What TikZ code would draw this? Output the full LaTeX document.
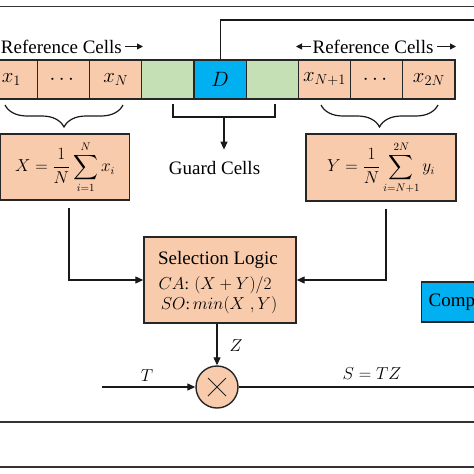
\documentclass[tikz,border=0pt]{standalone}
\usepackage{fontspec}
\setmainfont{Liberation Serif}
\usepackage{amsmath}
\usetikzlibrary{arrows.meta,decorations.pathreplacing,calc}
\definecolor{cellor}{HTML}{F8CBAD}
\definecolor{cellgr}{HTML}{C5E0B4}
\definecolor{cellbl}{HTML}{00B0F0}
\begin{document}
\begin{tikzpicture}[x=1pt,y=-1pt,
  txt/.style={font=\fontsize{19}{22}\selectfont, inner sep=0pt},
  mtxt/.style={font=\fontsize{16}{20}\selectfont, inner sep=0pt},
  cell/.style={draw=black!85, line width=1.2pt, minimum width=52.2pt, minimum height=39pt, inner sep=0pt, font=\fontsize{20}{22}\selectfont},
  box/.style={draw=black!85, line width=1.4pt, fill=cellor, inner sep=0pt, font=\fontsize{16}{20}\selectfont},
  line/.style={draw=black!90, line width=1.2pt},
  arr/.style={line, -{Triangle[length=8pt,width=7pt]}},
  frame/.style={draw=black!80, line width=1.7pt}
]
\useasboundingbox (0,0) rectangle (474,474);
% frame lines
\draw[frame] (-5,6.5) -- (480,6.5);
\draw[frame] (-5,422) -- (480,422);
\draw[frame] (-5,467) -- (480,467);
% cells
\node[cell, fill=cellor] (c1) at (11.3,79.5) {$x_1$};
\node[cell, fill=cellor] (c2) at (63.5,79.5) {$\cdots$};
\node[cell, fill=cellor] (c3) at (115.7,79.5) {$x_N$};
\node[cell, fill=cellgr] (g1) at (167.9,79.5) {};
\node[cell, fill=cellbl] (D) at (220.1,79.5) {$D$};
\node[cell, fill=cellgr] (g2) at (272.3,79.5) {};
\node[cell, fill=cellor] (c4) at (324.5,79.5) {$x_{N+1}$};
\node[cell, fill=cellor] (c5) at (376.7,79.5) {$\cdots$};
\node[cell, fill=cellor] (c6) at (428.9,79.5) {$x_{2N}$};
% D line out
\coordinate (dend) at (480,20);
\draw[line] (D.north) |- (dend);
% reference cells labels
\node[txt, anchor=base east] (rl) at (122,53) {Reference Cells};
\coordinate (rla) at (125,46.5);
\coordinate (rlb) at (143,46.5);
\draw[line, line width=1pt, -{Triangle[length=6pt,width=6pt]}] (rla) -- (rlb);
\node[txt, anchor=base] (rr) at (373,53) {Reference Cells};
\coordinate (rra) at (311,46.5);
\coordinate (rrb) at (296,46.5);
\draw[line, line width=1pt, -{Triangle[length=6pt,width=6pt]}] (rra) -- (rrb);
\coordinate (rrc) at (437,46.5);
\coordinate (rrd) at (456,46.5);
\draw[line, line width=1pt, -{Triangle[length=6pt,width=6pt]}] (rrc) -- (rrd);
% braces
\draw[line, decorate, decoration={brace, mirror, amplitude=22pt}] (5,105) -- (123,105);
\draw[line, decorate, decoration={brace, mirror, amplitude=22pt}] (321,105) -- (438,105);
% guard bracket
\coordinate (ga) at (173,104);
\coordinate (gb) at (275,104);
\coordinate (gtip) at (224,117);
\draw[line] (ga) |- (gtip) -| (gb);
\node[txt, anchor=base] (gc) at (214.5,174) {Guard Cells};
\draw[arr] (gtip) -- ([yshift=11pt]gc.north -| gtip);
% X and Y boxes
\node[box, minimum width=129pt, minimum height=66pt] (X) at (65,167) {$\displaystyle X=\frac{1}{N}\sum_{i=1}^{N}x_i$};
\node[box, minimum width=150pt, minimum height=67pt] (Y) at (381,167.5) {$\displaystyle Y=\frac{1}{N}\sum_{i=N+1}^{2N}y_i$};
% selection logic
\node[box, minimum width=152pt, minimum height=86pt] (sel) at (220,280) {};
\node[txt, anchor=base] (s1) at (218,264) {Selection Logic};
\node[mtxt, anchor=base] (s2) at (215,289) {$CA$: $(X+Y)/2$};
\node[mtxt, anchor=base] (s3) at (219,309) {$SO$:$\,min(X\;,Y)$};
\draw[arr] ([xshift=4pt,yshift=-7pt]X.south) |- (sel.west);
\draw[arr] ([xshift=5pt,yshift=-7pt]Y.south) |- (sel.east);
% multiplier
\node[circle, draw=black!85, line width=1.4pt, fill=cellor, minimum size=42pt, inner sep=0pt,
  path picture={\draw[line width=1pt] ([shift={(-9pt,-9pt)}]path picture bounding box.center) -- ([shift={(9pt,9pt)}]path picture bounding box.center);
  \draw[line width=1pt] ([shift={(-9pt,9pt)}]path picture bounding box.center) -- ([shift={(9pt,-9pt)}]path picture bounding box.center);}] (m) at (217,387) {};
\draw[arr] (m.north |- sel.south) -- (m.north);
\node[mtxt, anchor=base] (zl) at (236,351) {$Z$};
\coordinate (tin) at (102,387);
\draw[arr] (tin) -- (m.west);
\node[mtxt, anchor=base] (tl) at (147,381) {$T$};
\coordinate (sout) at (480,387);
\draw[line] (m.east) -- (sout);
\node[mtxt, anchor=base] (sl) at (372,379) {$S=TZ$};
% comparator
\node[draw=black!85, line width=1.4pt, fill=cellbl, anchor=west, minimum height=40pt, inner xsep=7pt, inner ysep=0pt, font=\fontsize{19}{22}\selectfont] (cmp) at (421,302) {Comparator};
\end{tikzpicture}
\end{document}
